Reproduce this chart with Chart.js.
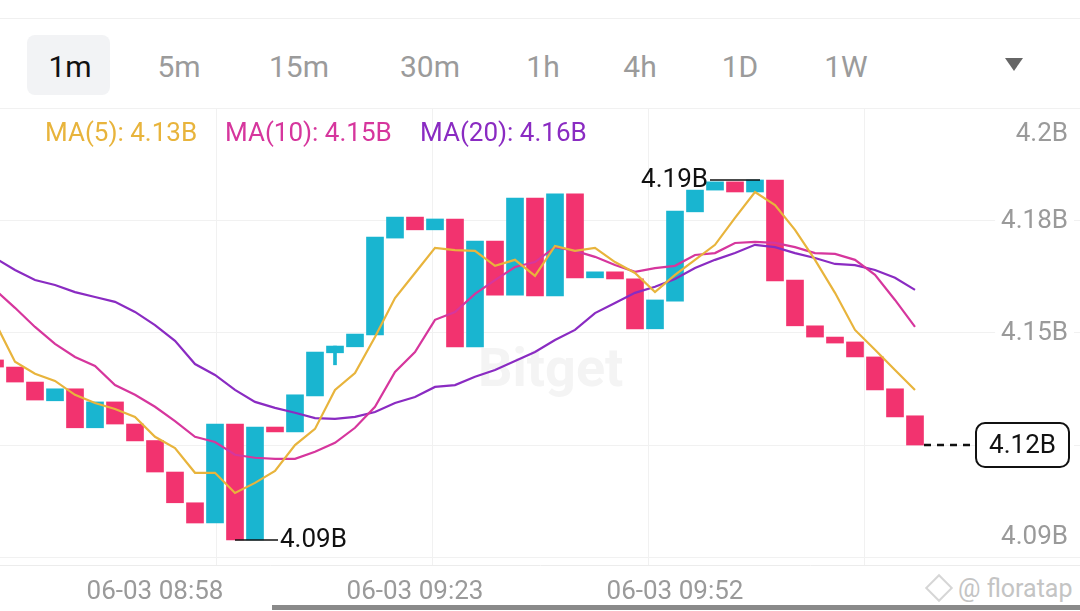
<!DOCTYPE html>
<html><head><meta charset="utf-8">
<script src="https://cdn.jsdelivr.net/npm/chart.js@4.4.1/dist/chart.umd.min.js"></script>
<style>
html,body{margin:0;padding:0;background:#fff;width:1080px;height:611px;overflow:hidden;font-family:Roboto,'Noto Sans',sans-serif;}
#wrap{position:relative;width:1080px;height:611px;}
#topline{position:absolute;left:0;top:18px;width:1080px;height:1px;background:#f0f0f0;}
#sel{position:absolute;left:27px;top:35px;width:83px;height:60px;background:#f2f3f5;border-radius:8px;}
.tab{position:absolute;top:66px;transform:translate(-50%,-50%);font-size:30px;color:#9b9b9b;white-space:nowrap;}
.tab.on{color:#111;}
#tri{position:absolute;left:1005px;top:58px;width:0;height:0;border-left:9px solid transparent;border-right:9px solid transparent;border-top:13px solid #666;}
.leg{position:absolute;top:132px;transform:translateY(-50%);font-size:26px;white-space:nowrap;}
#wm{position:absolute;left:478px;top:336px;font-size:54px;font-weight:bold;color:#f4f4f4;}
#ft{position:absolute;left:958px;top:588px;transform:translateY(-50%);font-size:25px;color:#c4c4c4;white-space:nowrap;}
#ftic{position:absolute;left:929px;top:578px;width:16px;height:16px;border:2px solid #d6d6d6;transform:rotate(45deg);}
#scroll{position:absolute;left:272px;top:605px;width:808px;height:5px;background:#8a8a8a;}
#cv{position:absolute;left:0;top:0;width:1080px;height:611px;}
</style></head>
<body><div id="wrap">
<div id="topline"></div>
<div id="sel"></div>
<div id="tabs"></div>
<div id="tri"></div>
<div id="wm">Bitget</div>
<div id="ftic"></div>
<div id="ft">@ floratap</div>
<div id="scroll"></div>
<div id="cv"><canvas id="c"></canvas></div>
<div id="legend"></div>
</div>
<script>
// ---- data ----
const tabs = ['1m','5m','15m','30m','1h','4h','1D','1W'];
const tabX = [70,179,299,430,543,640,740,846];

const opens = [4.1428,4.1409,4.1369,4.1319,4.1351,4.1247,4.1316,4.1257,4.1213,4.1129,
4.1047,4.0993,4.1257,4.0948,4.1249,4.1236,4.1332,4.1447,4.1463,4.1495,
4.1753,4.1809,4.1775,4.1804,4.1463,4.1745,4.1601,4.1860,4.1599,4.1871,
4.1647,4.1663,4.1644,4.1511,4.1585,4.1823,4.1881,4.1903,4.1876,4.1908,
4.1641,4.1519,4.1489,4.1476,4.1436,4.1351,4.1279];
const closes = [4.1409,4.1369,4.1321,4.1351,4.1247,4.1316,4.1257,4.1212,4.1129,4.1047,
4.0993,4.1257,4.0948,4.1249,4.1236,4.1335,4.1449,4.1465,4.1497,4.1756,
4.1809,4.1775,4.1804,4.1463,4.1745,4.1601,4.1860,4.1599,4.1871,4.1647,
4.1663,4.1644,4.1511,4.1588,4.1825,4.1881,4.1903,4.1876,4.1908,4.1639,
4.1519,4.1489,4.1473,4.1436,4.1348,4.1276,4.1201];
const wickIdx = [17];
const wickLow = [4.1415];
const wickHigh = [4.1465];

const ma5 = [4.1529,4.1423,4.1391,4.1372,4.1335,4.1313,4.1297,4.1276,4.1223,4.1193,
4.1127,4.1127,4.1073,4.1100,4.1132,4.1201,4.1244,4.1348,4.1393,4.1489,
4.1593,4.1660,4.1727,4.1721,4.1719,4.1679,4.1695,4.1652,4.1732,4.1719,
4.1727,4.1689,4.1660,4.1609,4.1655,4.1695,4.1735,4.1807,4.1876,4.1841,
4.1775,4.1695,4.1607,4.1508,4.1455,4.1401,4.1348];
const ma10 = [4.1615,4.1567,4.1516,4.1471,4.1436,4.1412,4.1361,4.1335,4.1303,4.1265,
4.1223,4.1209,4.1175,4.1167,4.1164,4.1164,4.1183,4.1207,4.1247,4.1303,
4.1396,4.1449,4.1535,4.1556,4.1604,4.1641,4.1676,4.1689,4.1729,4.1719,
4.1703,4.1681,4.1663,4.1673,4.1679,4.1708,4.1713,4.1740,4.1743,4.1740,
4.1729,4.1713,4.1711,4.1695,4.1655,4.1588,4.1516];
const ma20 = [4.1700,4.1668,4.1641,4.1628,4.1609,4.1596,4.1583,4.1556,4.1521,4.1479,
4.1417,4.1388,4.1348,4.1316,4.1300,4.1287,4.1273,4.1271,4.1276,4.1289,
4.1313,4.1329,4.1356,4.1361,4.1383,4.1401,4.1425,4.1449,4.1481,4.1508,
4.1553,4.1580,4.1607,4.1623,4.1644,4.1673,4.1695,4.1713,4.1735,4.1729,
4.1713,4.1700,4.1684,4.1681,4.1668,4.1647,4.1615];

const maNames = ['MA(5)','MA(10)','MA(20)'];
const maColors = ['#e8b43c','#d6369d','#8a2bc2'];
const legendX = [45,225,420];

const yTickVals = [4.09,4.12,4.15,4.18,4.21];
const yTickLabels = ['4.09B','4.12B','4.15B','4.18B','4.2B'];
const xTickIdx = [8,21,34];
const xTickLabels = ['06-03 08:58','06-03 09:23','06-03 09:52'];
const xGridVals = [11.05,21.85,32.65,43.45];

const UP = '#19b5d0', DOWN = '#f2336f';

// ---- header ----
const tabsEl = document.getElementById('tabs');
tabs.forEach((t,i)=>{const d=document.createElement('div');d.className='tab'+(i===0?' on':'');d.style.left=tabX[i]+'px';d.textContent=t;tabsEl.appendChild(d);});
const legEl = document.getElementById('legend');
[ma5,ma10,ma20].forEach((a,i)=>{const d=document.createElement('div');d.className='leg';d.style.left=legendX[i]+'px';d.style.color=maColors[i];d.textContent=maNames[i]+': '+a[a.length-1].toFixed(2)+'B';legEl.appendChild(d);});

// ---- chart ----
const candleData = opens.map((o,i)=>({x:i,y:[o,closes[i]]}));
const candleColors = opens.map((o,i)=>closes[i]>=o?UP:DOWN);
const wickData = wickIdx.map((k,j)=>({x:k,y:[wickLow[j],wickHigh[j]]}));
const wickColors = wickIdx.map(k=>closes[k]>=opens[k]?UP:DOWN);
const line = (arr,c)=>({type:'line',data:arr.map((v,i)=>({x:i,y:v})),borderColor:c,borderWidth:2.2,pointRadius:0,tension:0,order:0,fill:false});

const overlay = {
  id:'overlay',
  afterDraw(chart){
    const ctx=chart.ctx, xs=chart.scales.x, ys=chart.scales.y, ca=chart.chartArea;
    ctx.save();
    ctx.font='26px Roboto';
    ctx.textBaseline='middle';
    // y labels
    ctx.textAlign='right';
    yTickVals.forEach((v,i)=>{
      let py=ys.getPixelForValue(v);
      py=Math.max(ca.top+25,Math.min(ca.bottom-29,py));
      const w=ctx.measureText(yTickLabels[i]).width;
      ctx.fillStyle='#fff';ctx.fillRect(1068-w-6,py-15,w+12,30);
      ctx.fillStyle='#9a9a9a';ctx.fillText(yTickLabels[i],1068,py+1);
    });
    // high / low markers
    let hi=-Infinity,hiK=0,lo=Infinity,loK=0;
    opens.forEach((o,i)=>{const h=Math.max(o,closes[i]),l=Math.min(o,closes[i]);if(h>hi){hi=h;hiK=i;}if(l<lo){lo=l;loK=i;}});
    ctx.strokeStyle='#111';ctx.lineWidth=1.5;ctx.fillStyle='#111';
    [[hiK,hi],[loK,lo]].forEach(([k,v])=>{
      const px=xs.getPixelForValue(k), py=ys.getPixelForValue(v);
      const right = px < (ca.left+ca.right)/2;
      const ex = right? px+43 : px-45;
      ctx.beginPath();ctx.moveTo(px+(right?0:5),py);ctx.lineTo(ex,py);ctx.stroke();
      ctx.textAlign = right?'left':'right';
      ctx.fillText(v.toFixed(2)+'B', right? ex+2 : ex-2, py+1);
    });
    // last price tag
    const last=closes.length-1, lv=closes[last];
    const lpx=xs.getPixelForValue(last)+9, lpy=ys.getPixelForValue(lv);
    ctx.setLineDash([7,6]);ctx.lineWidth=2.5;
    ctx.beginPath();ctx.moveTo(lpx,lpy);ctx.lineTo(976,lpy);ctx.stroke();
    ctx.setLineDash([]);
    ctx.beginPath();ctx.roundRect(976,lpy-22,93,44,9);
    ctx.fillStyle='#fff';ctx.fill();ctx.lineWidth=2;ctx.strokeStyle='#111';ctx.stroke();
    ctx.fillStyle='#111';ctx.textAlign='center';
    ctx.fillText(lv.toFixed(2)+'B',1022.5,lpy+1);
    ctx.restore();
  }
};

new Chart(document.getElementById('c'),{
  type:'bar',
  data:{datasets:[
    line(ma5,maColors[0]),
    line(ma10,maColors[1]),
    line(ma20,maColors[2]),
    {type:'bar',data:candleData,backgroundColor:candleColors,barThickness:17,grouped:false,order:1,borderWidth:0},
    {type:'bar',data:wickData,backgroundColor:wickColors,barThickness:3,grouped:false,order:2,borderWidth:0}
  ]},
  options:{
    responsive:true,maintainAspectRatio:false,animation:false,
    layout:{padding:{top:108,left:0,right:0,bottom:0}},
    plugins:{legend:{display:false},tooltip:{enabled:false}},
    scales:{
      x:{type:'linear',position:'bottom',min:0.25,max:54.25,offset:false,bounds:'ticks',
        afterBuildTicks:(s)=>{s.ticks=[...xTickIdx,...xGridVals].sort((a,b)=>a-b).map(v=>({value:v}));},
        afterFit:(s)=>{s.height=46;},
        grid:{drawTicks:false,offset:false,color:(c)=>(c.tick && xTickIdx.includes(c.tick.value))?'rgba(0,0,0,0)':'#f1f1f1'},
        border:{display:true,color:'#ececec'},
        ticks:{autoSkip:false,maxRotation:0,padding:12,color:'#9a9a9a',font:{family:'Roboto',size:26},
          callback:(v)=>{const i=xTickIdx.indexOf(v);return i>=0?xTickLabels[i]:'';}}
      },
      y:{type:'linear',position:'right',min:4.0881,max:4.21,
        afterBuildTicks:(s)=>{s.ticks=yTickVals.map(v=>({value:v}));},
        afterFit:(s)=>{s.width=0;},
        grid:{drawTicks:false,color:'#f1f1f1'},
        border:{display:false},
        ticks:{display:false}
      }
    }
  },
  plugins:[overlay]
});
</script>
</body></html>
